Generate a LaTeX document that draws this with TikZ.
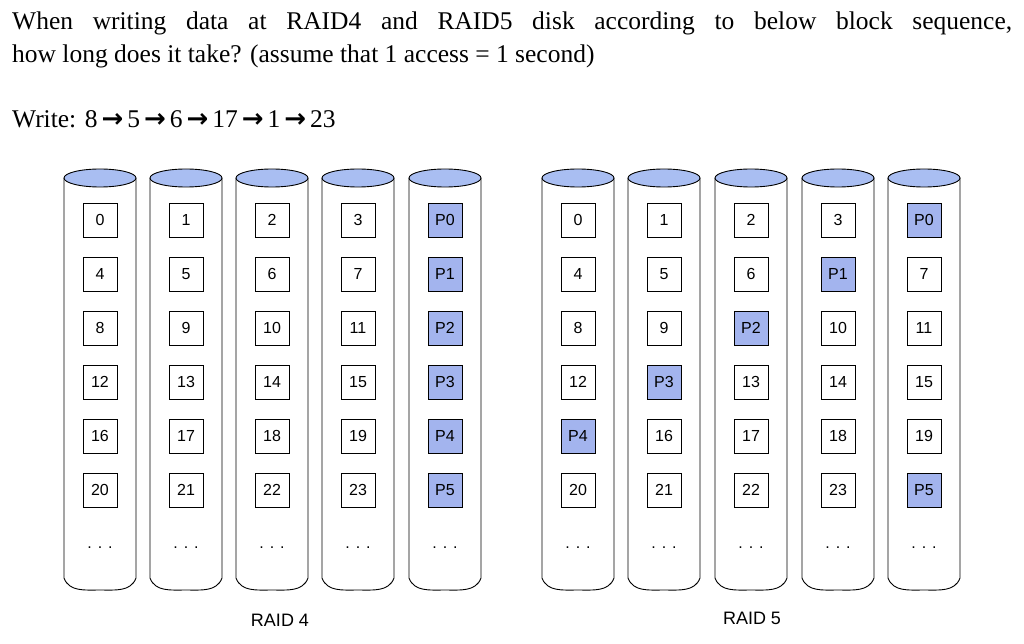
\documentclass[tikz,border=0pt]{standalone}
\usepackage{fontspec}
\setmainfont{Liberation Serif}
\newfontfamily\boxfont{Liberation Sans}
\newfontfamily\arrfont{DejaVu Sans}
\definecolor{pblue}{HTML}{A3B4EE}
\definecolor{eblue}{HTML}{A9BEF2}
\newcommand\myarr{\hspace{4pt}{\arrfont\bfseries\fontsize{26}{26}\selectfont→}\hspace{4pt}}
\begin{document}
\begin{tikzpicture}[x=1pt,y=-1pt,
  blk/.style={draw,line width=0.9pt,minimum width=34pt,minimum height=34pt,inner sep=0pt,font=\boxfont\fontsize{16}{16}\selectfont},
  par/.style={blk,fill=pblue},
  dots/.style={font=\boxfont\fontsize{16}{16}\selectfont},
  lbl/.style={font=\boxfont\fontsize{18}{18}\selectfont}]
\useasboundingbox (0,0) rectangle (1024,644);
\node[anchor=north west,inner sep=0pt,text width=1000pt,align=justify,font=\fontsize{25.5}{33}\selectfont] (q) at (12,12)
 {When writing data at RAID4 and RAID5 disk according to below block sequence,\linebreak how long does it take? (assume that 1 access = 1 second)};
\node[anchor=west,inner sep=0pt,font=\fontsize{25.5}{33}\selectfont] (w) at (12,119)
 {Write: 8\myarr5\myarr6\myarr17\myarr1\myarr23};
% cylinders
\foreach \cx/\nm in {100/a,186/b,272/c,358/d,445/e,578/f,664/g,751/h,838/i,924/j}{
  \draw[line width=0.9pt] (\cx-36,178) -- (\cx-36,578) to[out=-70,in=180] (\cx,590) to[out=0,in=-110] (\cx+36,578) -- (\cx+36,178);
  \draw[line width=0.9pt,fill=eblue] (\cx,178) ellipse [x radius=36,y radius=9];
  \node[dots] (dt\nm) at (\cx,548) {. . .};
}
% RAID 4
\foreach \cx/\col in {100/0,186/1,272/2,358/3}{
  \foreach \r in {0,...,5}{
    \pgfmathtruncatemacro\v{4*\r+\col}
    \node[blk] (r4-\col-\r) at (\cx,220+54*\r) {\v};
  }
}
\foreach \r in {0,...,5}{ \node[par] (r4p-\r) at (445,220+54*\r) {P\r}; }
% RAID 5
\foreach \cx/\c in {578/0,664/1,751/2,838/3,924/4}{
  \foreach \r in {0,...,5}{
    \pgfmathtruncatemacro\pc{4-mod(\r,5)}
    \ifnum\c=\pc
      \node[par] (r5-\c-\r) at (\cx,220+54*\r) {P\r};
    \else
      \pgfmathtruncatemacro\idx{\c<\pc ? \c : \c-1}
      \pgfmathtruncatemacro\v{4*\r+\idx}
      \node[blk] (r5-\c-\r) at (\cx,220+54*\r) {\v};
    \fi
  }
}
\node[lbl] (l4) at (280,620) {RAID 4};
\node[lbl] (l5) at (752,618) {RAID 5};
\end{tikzpicture}
\end{document}
